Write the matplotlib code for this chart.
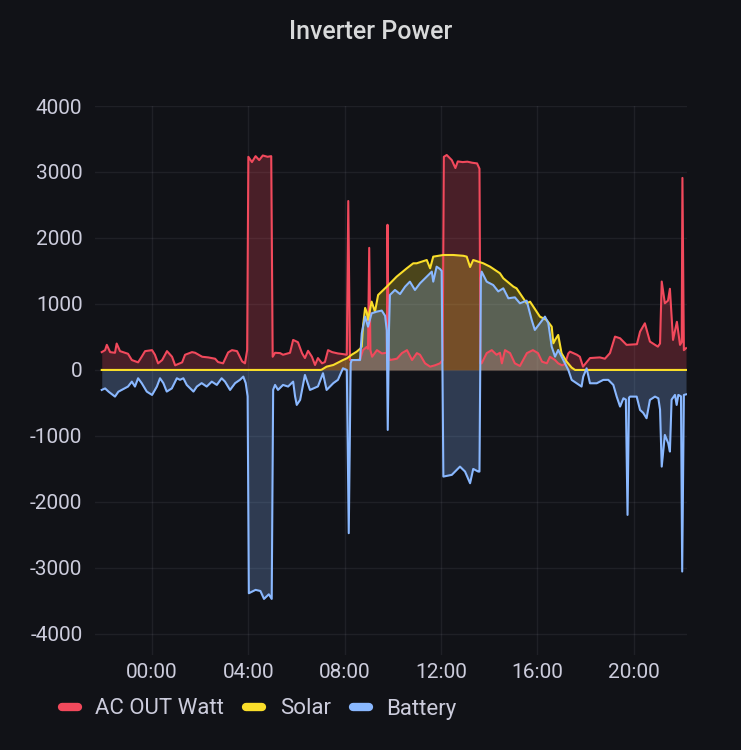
import numpy as np
import matplotlib.pyplot as plt
from matplotlib.lines import Line2D
from matplotlib.ticker import FixedLocator, FuncFormatter

# hours relative to midnight, watts
ac_t = [-2.09, -1.95, -1.88, -1.74, -1.54, -1.47, -1.33, -1.00, -0.84, -0.58, -0.43, -0.29, 0.00, 0.12, 0.25,
        0.42, 0.62, 0.83, 0.96, 1.25, 1.37, 1.66, 1.79, 2.08, 2.33, 2.62, 2.74, 2.95, 3.16, 3.32, 3.53, 3.74,
        3.86, 3.95, 4.00, 4.15, 4.30, 4.45, 4.60, 4.80, 4.95, 5.01, 5.11, 5.32, 5.44, 5.73, 5.86, 6.06, 6.23,
        6.35, 6.48, 6.64, 6.77, 6.89, 7.06, 7.18, 7.31, 7.48, 7.72, 7.93, 8.09, 8.15, 8.22, 8.50, 8.64, 8.76,
        8.92, 8.97, 9.02, 9.07, 9.14, 9.34, 9.55, 9.75, 9.78, 9.83, 9.88, 10.17, 10.38, 10.59, 10.80, 11.00,
        11.13, 11.34, 11.55, 11.75, 11.96, 12.07, 12.12, 12.24, 12.45, 12.60, 12.70, 12.90, 13.10, 13.30,
        13.50, 13.60, 13.64, 13.69, 13.90, 14.11, 14.31, 14.45, 14.53, 14.66, 14.87, 15.07, 15.28, 15.57,
        15.82, 16.03, 16.20, 16.40, 16.53, 16.74, 16.87, 17.03, 17.15, 17.29, 17.36, 17.65, 17.77, 17.90,
        18.19, 18.60, 18.81, 19.02, 19.23, 19.44, 19.71, 20.14, 20.27, 20.47, 20.68, 21.01, 21.10, 21.17,
        21.30, 21.43, 21.51, 21.58, 21.64, 21.80, 21.93, 22.00, 22.03, 22.09, 22.18]
ac_w = [270, 300, 380, 270, 260, 400, 285, 245, 150, 115, 200, 285, 300, 230, 100,
        150, 285, 200, 70, 115, 230, 270, 260, 200, 190, 170, 120, 100, 265, 300, 285, 130,
        100, 300, 3230, 3150, 3240, 3180, 3250, 3230, 3240, 200, 260, 255, 230, 260, 455, 420, 253,
        180, 290, 200, 75, 180, 100, 120, 300, 270, 250, 240, 230, 2560, 150, 150, 160, 300,
        350, 320, 1850, 300, 200, 300, 250, 260, 2200, 200, 150, 170, 255, 300, 150, 255,
        230, 100, 50, 70, 100, 150, 3230, 3257, 3180, 3060, 3160, 3150, 3156, 3140,
        3130, 3050, 100, 100, 255, 300, 230, 260, 100, 300, 255, 100, 60, 255,
        300, 255, 125, 100, 200, 150, 100, 70, 90, 250, 277, 230, 200, 50,
        180, 190, 170, 255, 505, 480, 380, 390, 580, 707, 430, 353, 400, 1340,
        1010, 1050, 1230, 800, 455, 730, 380, 420, 2910, 300, 330]

solar_t = [-2.09, 7.00, 7.05, 7.25, 7.53, 7.93, 8.09, 8.29, 8.50, 8.64, 8.71, 8.76, 8.85, 8.92, 8.97, 9.12,
           9.26, 9.39, 9.75, 10.16, 10.58, 10.85, 10.99, 11.41, 11.55, 11.68, 12.10, 12.51, 12.93, 13.07,
           13.21, 13.34, 13.76, 14.04, 14.45, 14.59, 15.01, 15.14, 15.56, 15.70, 16.11, 16.39, 16.60, 16.67,
           16.74, 16.87, 17.01, 17.22, 17.43, 17.57, 22.18]
solar_w = [0, 0, 5, 50, 75, 150, 175, 230, 277, 320, 353, 656, 940, 870, 757, 1035,
           883, 1136, 1262, 1414, 1540, 1616, 1616, 1666, 1540, 1717, 1742, 1742, 1730, 1717,
           1560, 1666, 1616, 1565, 1465, 1389, 1262, 1237, 1010, 1035, 808, 757, 656, 404,
           455, 530, 252, 126, 35, 0, 0]

batt_t = [-2.09, -1.95, -1.81, -1.54, -1.40, -1.26, -1.00, -0.84, -0.71, -0.58, -0.43, -0.22, 0.00, 0.20,
          0.33, 0.47, 0.61, 0.82, 1.03, 1.16, 1.30, 1.44, 1.58, 1.72, 1.86, 2.06, 2.27, 2.48, 2.69, 2.89,
          3.03, 3.24, 3.45, 3.65, 3.79, 3.89, 3.97, 4.02, 4.30, 4.50, 4.65, 4.85, 4.97, 5.03, 5.11, 5.23,
          5.44, 5.65, 5.86, 5.94, 6.01, 6.15, 6.35, 6.56, 6.89, 7.10, 7.25, 7.53, 7.72, 7.93, 8.09, 8.17,
          8.25, 8.29, 8.64, 8.71, 8.85, 8.97, 9.12, 9.33, 9.54, 9.68, 9.75, 9.79, 9.84, 9.88, 10.09, 10.30,
          10.51, 10.71, 10.92, 11.13, 11.27, 11.41, 11.62, 11.68, 11.82, 11.96, 12.03, 12.10, 12.45, 12.79,
          13.00, 13.21, 13.34, 13.55, 13.60, 13.66, 13.69, 13.90, 14.17, 14.38, 14.59, 14.80, 15.07, 15.28,
          15.56, 15.77, 15.90, 16.11, 16.32, 16.46, 16.60, 16.74, 16.87, 17.01, 17.15, 17.29, 17.43, 17.64,
          17.84, 17.91, 18.05, 18.19, 18.47, 18.74, 18.95, 19.16, 19.30, 19.44, 19.58, 19.68, 19.75, 19.81,
          19.85, 20.13, 20.27, 20.40, 20.54, 20.68, 20.89, 21.03, 21.10, 21.17, 21.30, 21.44, 21.51, 21.58,
          21.72, 21.79, 21.86, 21.97, 22.02, 22.09, 22.18]
batt_w = [-303, -280, -328, -404, -330, -303, -252, -177, -252, -126, -200, -328, -379, -252,
          -126, -200, -328, -280, -126, -150, -126, -227, -278, -328, -252, -200, -252, -177, -227, -126,
          -177, -303, -200, -150, -101, -200, -400, -3384, -3333, -3350, -3470, -3400, -3470, -300, -227, -303,
          -227, -252, -177, -400, -530, -454, -76, -303, -250, -50, -303, -200, -150, 25, 0, -2474,
          100, 150, 150, 555, 808, 656, 858, 883, 900, 820, 600, -909, 600, 1136, 1212, 1150,
          1262, 1338, 1212, 1313, 1363, 1414, 1490, 1338, 1565, 1530, 1500, -1616, -1590, -1465,
          -1540, -1717, -1500, -1540, -1540, 1400, 1490, 1338, 1287, 1190, 1237, 1086, 1100, 1010,
          1050, 757, 606, 707, 808, 707, 353, 202, 303, 202, 101, 0, -151, -202,
          -252, -101, 25, -202, -202, -151, -150, -227, -404, -555, -429, -450, -2197, -420,
          -404, -404, -606, -650, -732, -454, -404, -430, -600, -1465, -985, -1111, -1237, -450,
          -379, -530, -379, -400, -3055, -379, -370]

series = [("AC OUT Watt", ac_t, ac_w, "#F2495C"),
          ("Solar", solar_t, solar_w, "#FADE2A"),
          ("Battery", batt_t, batt_w, "#8AB8FF")]

tick_hours = [0, 4, 8, 12, 16, 20]
bg = "#111217"
txt = "#ccccdc"

plt.rcParams['font.family'] = ['Roboto', 'DejaVu Sans']
plt.rcParams['axes.unicode_minus'] = False

fig = plt.figure(figsize=(7.41, 7.5), dpi=100, facecolor=bg)
ax = fig.add_axes([95 / 741, 1 - 655 / 750, 592 / 741, 549 / 750], facecolor=bg)

for name, t, w, c in series:
    ax.fill_between(t, w, 0, color=c, alpha=0.25, lw=0)
    ax.plot(t, w, color=c, lw=1.5, label=name)

ax.set_xlim(-2.37, 22.22)
ax.set_ylim(-4320, 4000)
ax.xaxis.set_major_locator(FixedLocator(tick_hours))
ax.xaxis.set_major_formatter(FuncFormatter(lambda v, p: "%02d:00" % (int(v) % 24)))
ax.set_yticks(np.arange(-4000, 4001, 1000))
ax.grid(True, color="#ccccdc", alpha=0.08, lw=1)
ax.set_axisbelow(True)
for s in ax.spines.values():
    s.set_visible(False)
ax.tick_params(length=0, colors=txt, labelsize=15)
ax.tick_params(axis='x', pad=6)
ax.tick_params(axis='y', pad=9)

fig.text(0.5, 1 - 32 / 750, "Inverter Power", ha='center', va='center', color="#d8d9da",
         fontsize=18, fontweight='medium')

handles = [Line2D([0], [0], color=c, lw=6, solid_capstyle='round') for _, _, _, c in series]
fig.legend(handles, [s[0] for s in series], loc='center left', bbox_to_anchor=(62 / 741, 1 - 709 / 750),
           ncol=3, frameon=False, fontsize=16, labelcolor=txt, handlelength=0.7, handletextpad=0.8,
           columnspacing=1.0, borderpad=0, borderaxespad=0)

fig.savefig("out.png", dpi=100, facecolor=bg)
